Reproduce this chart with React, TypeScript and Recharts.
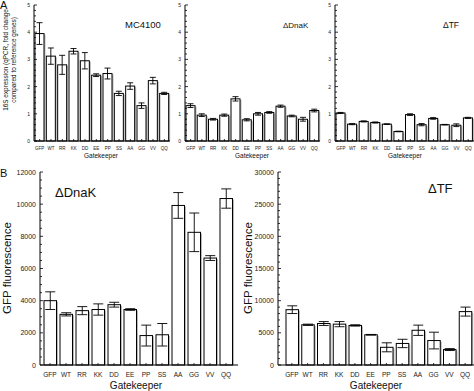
import React from 'react';
import { BarChart, Bar, XAxis, YAxis, ErrorBar } from 'recharts';

const categories = ['GFP', 'WT', 'RR', 'KK', 'DD', 'EE', 'PP', 'SS', 'AA', 'GG', 'VV', 'QQ'];

// panel A: 16S expression
const mc4100Values = [3.95, 3.12, 2.8, 3.3, 2.95, 2.42, 2.48, 1.75, 2.02, 1.3, 2.22, 1.75];
const mc4100Errors = [0.4, 0.3, 0.35, 0.1, 0.3, 0.05, 0.2, 0.08, 0.12, 0.1, 0.12, 0.04];
const dnakQpcrValues = [1.3, 0.95, 0.8, 0.95, 1.55, 0.78, 1.0, 1.05, 1.28, 0.92, 0.8, 1.12];
const dnakQpcrErrors = [0.07, 0.05, 0.03, 0.04, 0.08, 0.04, 0.05, 0.03, 0.04, 0.03, 0.07, 0.05];
const tfQpcrValues = [1.03, 0.62, 0.72, 0.68, 0.62, 0.35, 0.97, 0.6, 0.83, 0.6, 0.58, 0.85];
const tfQpcrErrors = [0.02, 0.02, 0.02, 0.02, 0.01, 0.01, 0.03, 0.04, 0.03, 0.01, 0.05, 0.02];

// panel B: GFP fluorescence
const dnakGfpValues = [4000, 3150, 3380, 3450, 3750, 3450, 1830, 1880, 9920, 8250, 6650, 10350];
const dnakGfpErrors = [550, 100, 250, 350, 150, 50, 650, 700, 800, 1200, 150, 600];
const tfGfpValues = [8600, 6250, 6450, 6350, 6150, 4700, 2750, 3350, 5400, 3800, 2400, 8300];
const tfGfpErrors = [600, 100, 300, 400, 100, 50, 700, 650, 800, 1300, 150, 700];

const qpcrMajorTicks = [0, 1, 2, 3, 4, 5];
const dnakGfpMajorTicks = [0, 2000, 4000, 6000, 8000, 10000, 12000];
const tfGfpMajorTicks = [0, 5000, 10000, 15000, 20000, 25000, 30000];

const FONT = '"Liberation Sans", Arial, sans-serif';

const withMinor = (majors: number[], per: number) => {
  const out: number[] = [];
  for (let i = 0; i < majors.length - 1; i++) {
    const step = (majors[i + 1] - majors[i]) / per;
    for (let j = 0; j < per; j++) out.push(majors[i] + step * j);
  }
  out.push(majors[majors.length - 1]);
  return out;
};

const toRows = (values: number[], errors: number[]) =>
  categories.map((name, i) => ({ name, value: values[i], err: errors[i] }));

const ShadowBar = (props: any) => {
  const { x, y, width, height } = props;
  if (!height || height <= 0) return null;
  return (
    <g>
      <rect x={x + 1.5} y={y + 1} width={width} height={height - 1} fill="#b8b8b8" />
      <rect x={x} y={y} width={width} height={height} fill="#fff" stroke="#000" strokeWidth={1} />
    </g>
  );
};

interface PanelProps {
  x0: number; x1: number; y0: number; y1: number;
  yAxisW: number; rightPad: number; xAxisH: number;
  values: number[]; errors: number[];
  majors: number[]; minorPer: number;
  barSize: number; capWidth: number;
  tickFont: number; catFont: number; catDy: number;
  padLeft?: number; padRight?: number;
}

const Panel: React.FC<PanelProps> = (p) => {
  const topPad = 5;
  const width = p.yAxisW + (p.x1 - p.x0) + p.rightPad;
  const height = topPad + (p.y1 - p.y0) + p.xAxisH;
  const bottomY = topPad + (p.y1 - p.y0);
  const data = toRows(p.values, p.errors);
  const ticks = withMinor(p.majors, p.minorPer);
  const isMajor = (v: number) => p.majors.some(m => Math.abs(m - v) < 1e-6);

  const YTick = (t: any) => {
    const v = t.payload.value;
    const major = isMajor(v);
    return (
      <g>
        <line x1={p.yAxisW} x2={p.yAxisW + (major ? 3 : 2)} y1={t.y} y2={t.y} stroke="#000" strokeWidth={0.8} />
        {major && (
          <text x={p.yAxisW - 4} y={t.y} textAnchor="end" dominantBaseline="central"
            fontSize={p.tickFont} fontFamily={FONT} fill="#222">{v}</text>
        )}
      </g>
    );
  };

  const XTick = (t: any) => (
    <g>
      <line x1={t.x} x2={t.x} y1={bottomY} y2={bottomY - 2} stroke="#000" strokeWidth={0.8} />
      <text x={t.x} y={bottomY + p.catDy} textAnchor="middle" dominantBaseline="central"
        fontSize={p.catFont} fontFamily={FONT} fill="#222">{t.payload.value}</text>
    </g>
  );

  return (
    <div style={{ position: 'absolute', left: p.x0 - p.yAxisW, top: p.y0 - topPad }}>
      <BarChart width={width} height={height} data={data}
        margin={{ top: topPad, right: p.rightPad, left: 0, bottom: 0 }}>
        <XAxis dataKey="name" interval={0} height={p.xAxisH} tickLine={false}
          axisLine={{ stroke: '#000' }} tick={XTick}
          padding={{ left: p.padLeft || 0, right: p.padRight || 0 }} />
        <YAxis width={p.yAxisW} domain={[p.majors[0], p.majors[p.majors.length - 1]]}
          ticks={ticks} interval={0} tickLine={false} axisLine={{ stroke: '#000' }} tick={YTick} />
        <Bar dataKey="value" barSize={p.barSize} shape={ShadowBar} isAnimationActive={false}>
          <ErrorBar dataKey="err" width={p.capWidth} stroke="#000" strokeWidth={0.9} isAnimationActive={false} />
        </Bar>
      </BarChart>
    </div>
  );
};

const App: React.FC = () => {
  const aCommon = { y0: 5, y1: 141, yAxisW: 20, xAxisH: 20, majors: qpcrMajorTicks, minorPer: 5,
    barSize: 9, capWidth: 3, tickFont: 5, catFont: 4.5, catDy: 7 };
  const bCommon = { y0: 172, y1: 365, yAxisW: 36, xAxisH: 26, barSize: 12.5, capWidth: 5,
    tickFont: 7, catFont: 6.5, catDy: 9 };
  return (
    <div style={{ position: 'absolute', left: 0, top: 0, width: 474, height: 391, background: '#fff', overflow: 'hidden' }}>
      <Panel {...aCommon} x0={34} x1={170} rightPad={4} values={mc4100Values} errors={mc4100Errors} />
      <Panel {...aCommon} x0={185} x1={320} rightPad={4} values={dnakQpcrValues} errors={dnakQpcrErrors} />
      <Panel {...aCommon} x0={335} x1={474} rightPad={0} values={tfQpcrValues} errors={tfQpcrErrors} />
      <Panel {...bCommon} x0={40} x1={238} rightPad={0} padLeft={2} padRight={4}
        values={dnakGfpValues} errors={dnakGfpErrors} majors={dnakGfpMajorTicks} minorPer={4} />
      <Panel {...bCommon} x0={278} x1={474} rightPad={0} padLeft={6} padRight={1}
        values={tfGfpValues} errors={tfGfpErrors} majors={tfGfpMajorTicks} minorPer={5} />
      <svg width={474} height={391} style={{ position: 'absolute', left: 0, top: 0, pointerEvents: 'none' }}
        fontFamily={FONT} fill="#111">
        <text x={0} y={9} fontSize={11}>A</text>
        <text x={0} y={177} fontSize={11}>B</text>
        <text transform="translate(8,60) rotate(-90)" textAnchor="middle" fontSize={6.4}>16S expression (qPCR, fold change</text>
        <text transform="translate(16,60) rotate(-90)" textAnchor="middle" fontSize={6.4}>compared to reference genes)</text>
        <text x={125} y={28} fontSize={9.5}>MC4100</text>
        <text x={283} y={28} fontSize={8}>ΔDnaK</text>
        <text x={443} y={28} fontSize={8.5}>ΔTF</text>
        <text x={101} y={158} textAnchor="middle" fontSize={6.5}>Gatekeeper</text>
        <text x={252} y={158} textAnchor="middle" fontSize={6.5}>Gatekeeper</text>
        <text x={405} y={158} textAnchor="middle" fontSize={6.5}>Gatekeeper</text>
        <text x={55} y={197} fontSize={13}>ΔDnaK</text>
        <text x={428} y={193} fontSize={13}>ΔTF</text>
        <text transform="translate(11,268) rotate(-90)" textAnchor="middle" fontSize={11.5}>GFP fluorescence</text>
        <text transform="translate(252,268) rotate(-90)" textAnchor="middle" fontSize={11.5}>GFP fluorescence</text>
        <text x={136} y={389} textAnchor="middle" fontSize={10}>Gatekeeper</text>
        <text x={376} y={389} textAnchor="middle" fontSize={10}>Gatekeeper</text>
      </svg>
    </div>
  );
};

export default App;
